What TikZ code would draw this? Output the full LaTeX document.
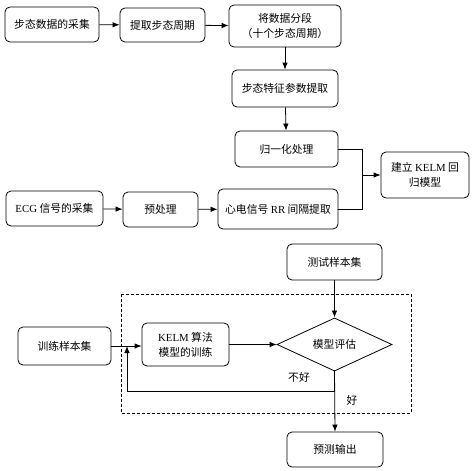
\documentclass[tikz,border=0pt]{standalone}
\usepackage{fontspec}
\setmainfont{Liberation Serif}
\newfontfamily\cjk{Noto Sans CJK SC}
\usetikzlibrary{arrows.meta,shapes.geometric}

\begin{document}
\begin{tikzpicture}[x=1pt,y=-1pt,line width=0.8pt,
  box/.style={draw,rounded corners=5pt,inner sep=0pt,align=center,font=\cjk\fontsize{10.8}{15}\selectfont},
  lbl/.style={inner sep=0pt,font=\cjk\fontsize{10.8}{12}\selectfont},
  ar/.style={-{Latex[length=7pt,width=5.5pt]}}]
\useasboundingbox (0,0) rectangle (474,471);

\node [box, minimum width=94pt, minimum height=35pt] (cj) at (52,24.5) {步态数据的采集};
\node [box, minimum width=85pt, minimum height=34pt] (tq) at (162.5,25) {提取步态周期};
\node [box, minimum width=112pt, minimum height=42pt] (fd) at (285,26) {将数据分段\\（十个步态周期）};
\node [box, minimum width=106pt, minimum height=37pt] (tz) at (285,88.5) {步态特征参数提取};
\node [box, minimum width=103pt, minimum height=36pt] (gyh) at (286.5,149) {归一化处理};
\node [box, minimum width=88pt, minimum height=46pt] (jl) at (425,175) {建立 {\rmfamily KELM} 回\\归模型};
\node [box, minimum width=97pt, minimum height=35pt] (ecg) at (54.5,208.5) {{\rmfamily ECG} 信号的采集};
\node [box, minimum width=75pt, minimum height=35pt] (ycl) at (160.5,209.5) {预处理};
\node [box, minimum width=120pt, minimum height=40pt] (rr) at (278,209) {心电信号 {\rmfamily RR} 间隔提取};
\coordinate (jct) at (362,175);

\draw [ar] (cj) -- (tq);
\draw [ar] (tq) -- (fd);
\draw [ar] (fd) -- (tz);
\draw [ar] (tz) -- (gyh);
\draw [ar] (ecg) -- (ycl);
\draw [ar] (ycl) -- (rr);
\draw (gyh.east) -| (jct);
\draw (rr.east) -| (jct);
\draw [ar] (jct) -- (jl.west);

\node [box, minimum width=95pt, minimum height=36pt] (cs) at (334.5,262) {测试样本集};
\draw [dashed, dash pattern=on 3pt off 2pt] (121,294) rectangle (411,413);
\node [box, minimum width=93pt, minimum height=38pt] (xl) at (64.5,346) {训练样本集};
\node [box, minimum width=87pt, minimum height=43pt] (xlm) at (185.5,344.5) {{\rmfamily KELM} 算法\\模型的训练};
\node [draw, diamond, inner sep=0pt, minimum width=115pt, minimum height=41pt,
  font=\cjk\fontsize{10.8}{12}\selectfont] (pg) at (334.5,344.5) {模型评估};
\node [box, minimum width=96pt, minimum height=35pt] (yc) at (335,449.5) {预测输出};
\coordinate (back) at (127,391);
\coordinate (fb) at (127,346);

\draw [ar] (xl.east |- 0,346) -- (xlm.west |- 0,346);
\draw [ar] (xlm) -- (pg);
\draw [ar] (cs) -- (pg);
\draw [ar] (pg.south) -- (yc.north);
\draw [ar] (pg.south) |- (back) -- (fb);
\node [lbl] (bh) at (299,377) {不好};
\node [lbl] (hh) at (352,400) {好};
\end{tikzpicture}
\end{document}
